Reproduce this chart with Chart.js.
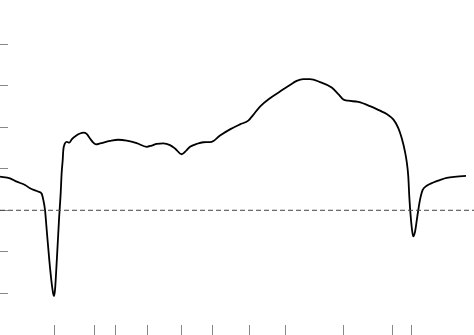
<!DOCTYPE html>
<html>
<head>
<meta charset="utf-8">
<script src="https://cdn.jsdelivr.net/npm/chart.js@4"></script>
<style>
html,body{margin:0;padding:0;background:#fff;}
canvas{display:block;}
</style>
</head>
<body>
<canvas id="c" width="474" height="335"></canvas>
<script>
// x positions (arbitrary time units) and series values
const xValues = [0, 1.0, 1.67, 2.5, 3.0, 3.5, 3.83, 4.17, 4.33, 4.5, 4.67, 4.93, 5.17, 5.33, 5.4, 5.5, 5.67, 5.9, 6.07, 6.17, 6.27, 6.33, 6.47, 6.67, 6.93, 7.17, 7.67, 8.0, 8.33, 8.67, 9.0, 9.33, 9.6, 10.0, 11.0, 11.83, 12.67, 13.67, 14.67, 15.17, 15.67, 16.33, 17.0, 17.5, 18.17, 18.67, 19.0, 19.67, 20.33, 21.17, 22.0, 23.0, 24.0, 24.83, 25.33, 26.0, 27.0, 28.0, 29.0, 29.67, 30.33, 31.0, 32.0, 33.17, 33.83, 34.33, 34.83, 35.83, 37.0, 38.0, 38.67, 39.33, 39.83, 40.17, 40.5, 40.67, 40.83, 40.93, 41.07, 41.23, 41.33, 41.5, 41.73, 42.0, 42.27, 42.67, 43.33, 44.0, 44.67, 45.67, 46.6];
const seriesValues = [0.81, 0.77, 0.69, 0.61, 0.53, 0.48, 0.45, 0.40, 0.25, 0.01, -0.47, -1.20, -1.76, -2.02, -2.07, -1.92, -1.25, -0.23, 0.42, 0.92, 1.21, 1.45, 1.60, 1.65, 1.63, 1.71, 1.81, 1.85, 1.87, 1.84, 1.73, 1.63, 1.59, 1.61, 1.67, 1.70, 1.68, 1.62, 1.53, 1.56, 1.60, 1.61, 1.57, 1.49, 1.35, 1.45, 1.53, 1.60, 1.64, 1.65, 1.80, 1.95, 2.07, 2.16, 2.30, 2.50, 2.70, 2.86, 3.02, 3.12, 3.16, 3.16, 3.09, 2.96, 2.80, 2.67, 2.64, 2.61, 2.51, 2.40, 2.32, 2.19, 1.98, 1.74, 1.41, 1.17, 0.81, 0.33, -0.15, -0.52, -0.63, -0.52, -0.15, 0.25, 0.49, 0.59, 0.67, 0.73, 0.78, 0.81, 0.83];
const referenceLevel = 0;
const xTickValues = [5.43, 9.43, 11.6, 14.75, 18.17, 21.23, 24.93, 28.53, 34.33, 39.27, 41.17];
const yTickValues = [-2, -1, 0, 1, 2, 3, 4];
const xRange = [0.8, 47.4];
const yRange = [-2.764, 5.067];

const lineData = xValues.map((x, i) => ({x: x, y: seriesValues[i]}));
const refData = [{x: 0, y: referenceLevel}, {x: 48, y: referenceLevel}];

new Chart(document.getElementById('c'), {
  type: 'line',
  data: {
    datasets: [
      {
        data: refData,
        borderColor: '#444',
        borderWidth: 1,
        borderDash: [5, 3],
        pointRadius: 0,
        clip: false
      },
      {
        data: lineData,
        borderColor: '#000',
        borderWidth: 1.8,
        pointRadius: 0,
        cubicInterpolationMode: 'monotone',
        clip: false
      }
    ]
  },
  options: {
    responsive: false,
    animation: false,
    devicePixelRatio: 1,
    layout: {padding: 0},
    plugins: {legend: {display: false}, tooltip: {enabled: false}},
    scales: {
      x: {
        type: 'linear',
        min: xRange[0],
        max: xRange[1],
        afterBuildTicks: s => { s.ticks = xTickValues.map(v => ({value: v})); },
        ticks: {display: false},
        border: {display: false},
        grid: {drawOnChartArea: false, drawTicks: true, tickLength: 10, color: '#888', lineWidth: 1}
      },
      y: {
        type: 'linear',
        min: yRange[0],
        max: yRange[1],
        afterBuildTicks: s => { s.ticks = yTickValues.map(v => ({value: v})); },
        ticks: {display: false},
        border: {display: false},
        grid: {drawOnChartArea: false, drawTicks: true, tickLength: 8, color: '#888', lineWidth: 1}
      }
    }
  }
});
</script>
</body>
</html>
